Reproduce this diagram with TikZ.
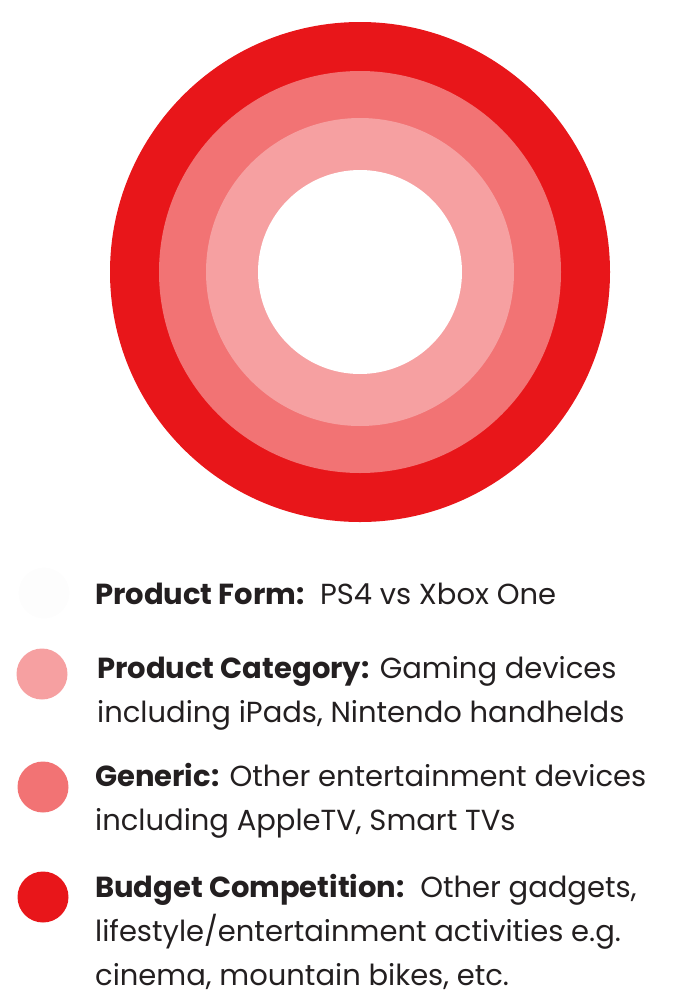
\documentclass[tikz,border=0pt]{standalone}
\usepackage{fontspec}
\setmainfont{Poppins}
\usetikzlibrary{positioning}

\definecolor{budgetred}{HTML}{E8161A}
\definecolor{genericred}{HTML}{F27374}
\definecolor{categoryred}{HTML}{F6A0A1}
\definecolor{formwhite}{HTML}{FDFDFD}
\definecolor{ink}{HTML}{231F20}

\begin{document}
\begin{tikzpicture}[x=1pt, y=-1pt,
  ring/.style={circle, inner sep=0pt},
  dot/.style={circle, inner sep=0pt, minimum size=51pt},
  entry/.style={anchor=base west, align=left, inner sep=0pt, text=ink,
    font=\fontsize{29}{44}\selectfont}]

\useasboundingbox (0,0) rectangle (684,1004);

\node[ring, fill=budgetred, minimum size=500pt] (r4) at (360,272) {};
\node[ring, fill=genericred, minimum size=402pt] (r3) at (360,272) {};
\node[ring, fill=categoryred, minimum size=308pt] (r2) at (360,272) {};
\node[ring, fill=white, minimum size=204pt] (r1) at (360,272) {};

\node[dot, fill=formwhite] (d1) at (44,593) {};
\node[dot, fill=categoryred] (d2) at (42,674) {};
\node[dot, fill=genericred] (d3) at (43,787) {};
\node[dot, fill=budgetred] (d4) at (43,897) {};

% base anchor sits on the last line
\node[entry] (t1) at (95,604) {\textbf{Product Form:}\ \ PS4 vs Xbox One};
\node[entry] (t2) at (97,722) {\textbf{Product Category:} Gaming devices\\including iPads, Nintendo handhelds};
\node[entry] (t3) at (95,830) {\textbf{Generic:} Other entertainment devices\\including AppleTV, Smart TVs};
\node[entry] (t4) at (95,985) {\textbf{Budget Competition:}\ \ Other gadgets,\\lifestyle/entertainment activities e.g.\\cinema, mountain bikes, etc.};
\end{tikzpicture}
\end{document}
